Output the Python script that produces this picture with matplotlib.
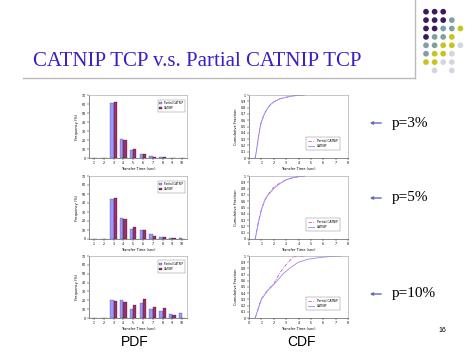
import numpy as np
import matplotlib
matplotlib.use("Agg")
import matplotlib.pyplot as plt

# PDF data: frequency (%) per transfer-time bin
bins = [1, 2, 3, 4, 5, 6, 7, 8, 9, 10]
pdf_partial_3 = [0, 0, 60.7, 21.6, 8.6, 4.5, 1.9, 1.1, 0.3, 0.2]
pdf_catnip_3 = [0, 0, 62.5, 19.7, 9.7, 4.8, 1.1, 0.7, 0.2, 0.3]
pdf_partial_5 = [0, 0, 43.9, 23.1, 11.2, 10.1, 5.2, 2.6, 0.8, 1.0]
pdf_catnip_5 = [0, 0, 45.8, 22.3, 13.0, 9.7, 3.4, 2.6, 0.6, 0.5]
pdf_partial_10 = [0, 0, 20.1, 20.8, 9.8, 17.0, 9.8, 7.9, 4.9, 5.3]
pdf_catnip_10 = [0, 0, 19.3, 18.5, 15.1, 21.2, 12.1, 11.0, 3.8, 0.4]

# CDF data: transfer time (sec) vs cumulative fraction
cdf_t_3 = [0.5, 0.6, 0.75, 0.9, 1.0, 1.25, 1.5, 1.75, 2.0, 2.5, 3.0, 3.5, 4.0, 4.5]
cdf_partial_3 = [0, 0.12, 0.32, 0.5, 0.58, 0.71, 0.79, 0.85, 0.89, 0.94, 0.965, 0.985, 0.995, 1.0]
cdf_catnip_3 = [0, 0.11, 0.31, 0.49, 0.57, 0.70, 0.79, 0.85, 0.89, 0.94, 0.963, 0.984, 0.995, 1.0]

cdf_t_5 = [0.5, 0.75, 1.0, 1.25, 1.5, 2.0, 2.5, 3.0, 3.5, 4.0, 4.5]
cdf_partial_5 = [0, 0.26, 0.47, 0.61, 0.70, 0.82, 0.89, 0.94, 0.97, 0.99, 1.0]
cdf_catnip_5 = [0, 0.25, 0.46, 0.60, 0.69, 0.80, 0.88, 0.94, 0.97, 0.99, 1.0]

cdf_t_partial_10 = [0.5, 1.0, 1.5, 2.0, 2.5, 3.0, 3.5, 3.8, 4.5]
cdf_partial_10 = [0, 0.31, 0.45, 0.55, 0.73, 0.86, 0.97, 1.0, 1.0]
cdf_t_catnip_10 = [0.5, 1.0, 1.5, 2.0, 2.4, 2.8, 3.4, 4.0, 4.8, 5.7, 6.7, 7.5]
cdf_catnip_10 = [0, 0.30, 0.44, 0.54, 0.63, 0.72, 0.82, 0.90, 0.95, 0.975, 0.995, 1.0]

loss_labels = ["p=3%", "p=5%", "p=10%"]

PARTIAL_BAR = "#9999ff"
CATNIP_BAR = "#993366"
W, H = 474, 355


def px_box(left, top, right, bottom):
    # pixel box (from top-left) -> figure fraction rect
    return [left / W, 1 - bottom / H, (right - left) / W, (bottom - top) / H]


def style_axes(ax):
    for s in ax.spines.values():
        s.set_linewidth(0.4)
        s.set_color("#999999")
    ax.spines["left"].set_color("#333333")
    ax.spines["bottom"].set_color("#333333")
    ax.tick_params(labelsize=2.3, length=1.2, width=0.3, pad=1)


def draw_pdf(ax, partial, catnip):
    x = np.array(bins)
    w = 0.34
    ax.bar(x - w / 2, partial, w, color=PARTIAL_BAR, edgecolor="#333366",
           linewidth=0.2, label="Partial CATNIP")
    ax.bar(x + w / 2, catnip, w, color=CATNIP_BAR, edgecolor="#330022",
           linewidth=0.2, label="CATNIP")
    ax.set_xlim(0.5, 10.5)
    ax.set_ylim(0, 70)
    ax.set_xticks(bins)
    ax.set_yticks(range(0, 71, 10))
    ax.set_ylabel("Frequency (%)", fontsize=2.6, labelpad=2)
    ax.set_xlabel("Transfer Time (sec)", fontsize=2.6, labelpad=1.5)
    style_axes(ax)
    leg = ax.legend(loc="upper right", fontsize=2.0, frameon=True,
                    handlelength=1.0, handleheight=0.6, borderpad=0.5,
                    fancybox=False, edgecolor="#555555",
                    bbox_to_anchor=(0.99, 0.95))
    leg.get_frame().set_linewidth(0.3)


def draw_cdf(ax, t_partial, partial, t_catnip, catnip):
    ax.plot(t_partial, partial, color="#cc55cc", lw=0.6, ls=(0, (4, 1.5, 1, 1.5)),
            label="Partial CATNIP")
    ax.plot(t_catnip, catnip, color="#9988ee", lw=0.6, label="CATNIP")
    ax.set_xlim(0, 8)
    ax.set_ylim(0, 1)
    ax.set_xticks(range(0, 9))
    ax.set_yticks(np.round(np.arange(0, 1.01, 0.1), 1))
    ax.set_yticklabels(["0", "0.1", "0.2", "0.3", "0.4", "0.5",
                        "0.6", "0.7", "0.8", "0.9", "1"])
    ax.set_ylabel("Cumulative Fraction", fontsize=2.6, labelpad=2)
    ax.set_xlabel("Transfer Time (sec)", fontsize=2.6, labelpad=1.5)
    style_axes(ax)
    leg = ax.legend(loc="lower right", fontsize=2.2, frameon=True,
                    handlelength=2.0, borderpad=0.6,
                    fancybox=False, edgecolor="#555555",
                    bbox_to_anchor=(0.93, 0.1))
    leg.get_frame().set_linewidth(0.3)


def draw_decoration(fig):
    # overlay in pixel coordinates for the slide furniture
    deco = fig.add_axes([0, 0, 1, 1], zorder=-1)
    deco.set_xlim(0, W)
    deco.set_ylim(H, 0)
    deco.axis("off")

    # title rule lines
    deco.plot([23, 415], [78, 78], color="#bbbbbb", lw=1.0)
    deco.plot([415, 415], [0, 78], color="#bbbbbb", lw=1.0)

    # corner dot pattern
    D, G, Y, L = "#3a1a5c", "#7f9fa0", "#c8c41e", "#d2d6e2"
    rows = [
        [D, D, D, None, None],
        [D, D, D, G, None],
        [D, D, G, G, Y],
        [D, G, G, Y, None],
        [G, G, Y, Y, L],
        [G, Y, Y, L, None],
        [Y, Y, L, L, None],
        [None, L, None, L, None],
    ]
    xs, ys, cs = [], [], []
    for r, row in enumerate(rows):
        for c, col in enumerate(row):
            if col is None:
                continue
            xs.append(426 + c * 8.6)
            ys.append(11.7 + r * 8.4)
            cs.append(col)
    deco.scatter(xs, ys, s=17, c=cs, linewidths=0)


def main():
    fig = plt.figure(figsize=(4.74, 3.55), dpi=100)
    fig.patch.set_facecolor("white")

    draw_decoration(fig)
    fig.text(33 / W, 1 - 62 / H, "CATNIP TCP v.s. Partial CATNIP TCP",
             fontsize=15, family="Liberation Serif", color="#3c1ec8",
             va="center", ha="left")

    tops = [(95, 158), (176, 239), (256, 318)]
    pdf_sets = [(pdf_partial_3, pdf_catnip_3),
                (pdf_partial_5, pdf_catnip_5),
                (pdf_partial_10, pdf_catnip_10)]
    cdf_sets = [(cdf_t_3, cdf_partial_3, cdf_t_3, cdf_catnip_3),
                (cdf_t_5, cdf_partial_5, cdf_t_5, cdf_catnip_5),
                (cdf_t_partial_10, cdf_partial_10, cdf_t_catnip_10, cdf_catnip_10)]
    label_y = [123, 198, 294]

    for i, (top, bottom) in enumerate(tops):
        ax_pdf = fig.add_axes(px_box(89, top, 187, bottom))
        draw_pdf(ax_pdf, *pdf_sets[i])

        ax_cdf = fig.add_axes(px_box(249, top, 348, bottom))
        draw_cdf(ax_cdf, *cdf_sets[i])

        # arrow + loss rate label
        yf = 1 - label_y[i] / H
        fig.add_artist(matplotlib.patches.FancyArrowPatch(
            (384 / W, yf), (367 / W, yf), transform=fig.transFigure,
            arrowstyle="-|>", mutation_scale=4, color="#6666cc", lw=1.0))
        fig.text(392 / W, yf, loss_labels[i], fontsize=11,
                 family="Liberation Serif", va="center", ha="left")

    fig.text(135 / W, 1 - 342 / H, "PDF", fontsize=10,
             family="Liberation Sans", ha="center", va="center")
    fig.text(302 / W, 1 - 342 / H, "CDF", fontsize=10,
             family="Liberation Sans", ha="center", va="center")
    fig.text(442 / W, 1 - 330 / H, "16", fontsize=5,
             family="Liberation Sans", ha="center", va="center")

    fig.savefig("out.png", dpi=100)
    plt.close(fig)


if __name__ == "__main__":
    main()
